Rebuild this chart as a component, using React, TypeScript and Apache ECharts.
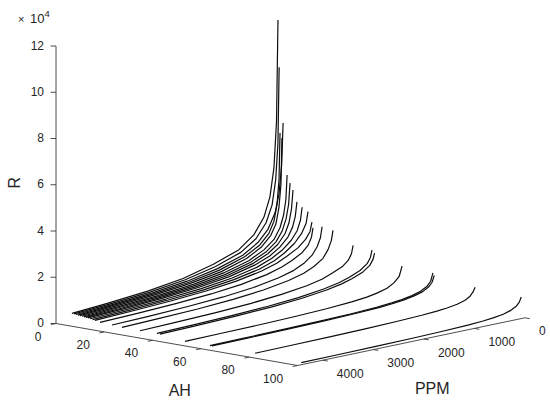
import React, { useEffect, useRef } from "react";
import * as echarts from "echarts";

// ---- data ----
const AH_LEVELS = [6.6, 7.5, 8.3, 9.1, 9.9, 10.8, 11.6, 12.4, 13.2, 14.1, 15.1, 16.1, 18.2, 23.2, 27.3, 34.8, 41.8, 43.0, 53.4, 63.7, 64.6, 82.4, 101.5];

const PPM_ROWS = [
  [4500, 3800, 3000, 2300, 1700, 1200, 900, 700, 580, 500, 450, 421],
  [4500, 3800, 3000, 2300, 1700, 1200, 900, 700, 580, 510, 465, 441],
  [4500, 3800, 3000, 2300, 1700, 1200, 900, 700, 560, 480, 430, 401],
  [4500, 3800, 3000, 2300, 1700, 1200, 900, 720, 620, 560, 520, 500],
  [4500, 3800, 3000, 2300, 1700, 1200, 900, 720, 620, 560, 520, 500],
  [4500, 3800, 3000, 2300, 1700, 1200, 900, 700, 580, 510, 465, 441],
  [4500, 3800, 3000, 2300, 1700, 1200, 900, 700, 580, 500, 450, 421],
  [4500, 3800, 3000, 2300, 1700, 1200, 900, 700, 560, 480, 430, 401],
  [4500, 3800, 3000, 2300, 1700, 1200, 900, 700, 540, 450, 395, 361],
  [4500, 3800, 3000, 2300, 1700, 1200, 900, 700, 520, 400, 335, 302],
  [4500, 3800, 3000, 2300, 1700, 1200, 900, 700, 500, 360, 270, 233],
  [4500, 3800, 3000, 2300, 1700, 1200, 900, 700, 480, 330, 240, 203],
  [4500, 3800, 3000, 2300, 1700, 1200, 900, 700, 500, 380, 315, 282],
  [4500, 3800, 3000, 2300, 1700, 1200, 900, 700, 540, 440, 375, 342],
  [4500, 3800, 3000, 2300, 1700, 1200, 900, 700, 520, 420, 355, 322],
  [4500, 3800, 3000, 2300, 1700, 1200, 900, 700, 500, 380, 315, 282],
  [4500, 3800, 3000, 2300, 1700, 1200, 900, 700, 480, 340, 275, 243],
  [4500, 3800, 3000, 2300, 1700, 1200, 900, 700, 480, 345, 280, 250],
  [4500, 3800, 3000, 2300, 1700, 1200, 900, 700, 500, 360, 260, 203],
  [4500, 3800, 3000, 2300, 1700, 1200, 900, 700, 500, 330, 200, 130, 84],
  [4500, 3800, 3000, 2300, 1700, 1200, 900, 700, 500, 330, 210, 145, 100],
  [4500, 3800, 3000, 2300, 1700, 1200, 900, 700, 500, 350, 250, 185, 144],
  [4500, 3800, 3000, 2300, 1700, 1200, 900, 700, 500, 350, 250, 185, 144],
];

const R_ROWS = [
  [5600, 6700, 8300, 10600, 14000, 17900, 23000, 29700, 38000, 50400, 70000, 113700],
  [5500, 6550, 8030, 10200, 13200, 17000, 21500, 27500, 34700, 45100, 60500, 93600],
  [5400, 6370, 7780, 9720, 12400, 15900, 20000, 24800, 31300, 39400, 51300, 69400],
  [5300, 6250, 7580, 9430, 11900, 15400, 19100, 23300, 28100, 35000, 45600, 65700],
  [5200, 6080, 7380, 9150, 11400, 14800, 18500, 22600, 27000, 33800, 43700, 63700],
  [5100, 5920, 7140, 8770, 11000, 14000, 17300, 20900, 25500, 30600, 37200, 47600],
  [5000, 5800, 6950, 8500, 10500, 13500, 16500, 20000, 24000, 29000, 35000, 44100],
  [4900, 5640, 6760, 8230, 10200, 13000, 15900, 19100, 23000, 27400, 33300, 41200],
  [4800, 5520, 6580, 7970, 9840, 12500, 15100, 18000, 21600, 25400, 29800, 36000],
  [4600, 5290, 6260, 7540, 9290, 11700, 14300, 16800, 20200, 23900, 28100, 33600],
  [4450, 5070, 6010, 7210, 8900, 11100, 13400, 15800, 19100, 22700, 26700, 31600],
  [4300, 4900, 5760, 6880, 8390, 10500, 12500, 14600, 17200, 20200, 23200, 27100],
  [3800, 4290, 5020, 6000, 7410, 9310, 11200, 13100, 15600, 18200, 21300, 25300],
  [3550, 4010, 4690, 5610, 6960, 8880, 10700, 12800, 15600, 18800, 22400, 27000],
  [3300, 3730, 4360, 5280, 6600, 8420, 10200, 12200, 14900, 18200, 21800, 26100],
  [3200, 3580, 4160, 4960, 6080, 7520, 8960, 10600, 12500, 14700, 17300, 20800],
  [3350, 3690, 4220, 4960, 5960, 7370, 8710, 10100, 12100, 14400, 16800, 19800],
  [3250, 3580, 4100, 4800, 5780, 7150, 8450, 9750, 11700, 13900, 16200, 18800],
  [2000, 2160, 2400, 2760, 3240, 3900, 4600, 5400, 6600, 8400, 10600, 14800],
  [2000, 2140, 2340, 2600, 2960, 3440, 3960, 4500, 5300, 6400, 8000, 9800, 13200],
  [2050, 2190, 2390, 2650, 3010, 3490, 4000, 4550, 5330, 6400, 7950, 9600, 12400],
  [2100, 2230, 2420, 2670, 2980, 3400, 3820, 4240, 4940, 5880, 7140, 8820, 10700],
  [1500, 1600, 1770, 1980, 2250, 2620, 3000, 3450, 4120, 5100, 6300, 7800, 9900],
];

const AH_TICKS = [0, 20, 40, 60, 80, 100];
const PPM_TICKS = [0, 1000, 2000, 3000, 4000];
const R_TICKS = [0, 20000, 40000, 60000, 80000, 100000, 120000];
const R_TICK_LABELS = ["0", "2", "4", "6", "8", "10", "12"];

const AH_RANGE = [0, 100];
const PPM_RANGE = [0, 4500];
const R_RANGE = [0, 120000];

// ---- layout of the projected 3-D box (pixels of the view plane) ----
const BOX_ORIGIN = [56, 323.5]; // AH min, PPM max, R 0
const BOX_AH_END = [297.6, 365.5]; // AH max, PPM max
const BOX_PPM_END = [524.9, 317.8]; // AH max, PPM min
const BOX_R_TOP = [56, 46]; // R max above origin

const FONT = "'Liberation Sans', Arial, Helvetica, sans-serif";
const TEXT_COLOR = "#262626";
const AXIS_COLOR = "#3a3a3a";
const TICK_FONT = 12;

function project(ah: number, ppm: number, r: number): number[] {
  const u = (ah - AH_RANGE[0]) / (AH_RANGE[1] - AH_RANGE[0]);
  const v = (PPM_RANGE[1] - ppm) / (PPM_RANGE[1] - PPM_RANGE[0]);
  const w = (r - R_RANGE[0]) / (R_RANGE[1] - R_RANGE[0]);
  return [
    BOX_ORIGIN[0] + u * (BOX_AH_END[0] - BOX_ORIGIN[0]) + v * (BOX_PPM_END[0] - BOX_AH_END[0]) + w * (BOX_R_TOP[0] - BOX_ORIGIN[0]),
    BOX_ORIGIN[1] + u * (BOX_AH_END[1] - BOX_ORIGIN[1]) + v * (BOX_PPM_END[1] - BOX_AH_END[1]) + w * (BOX_R_TOP[1] - BOX_ORIGIN[1]),
  ];
}

function unit(a: number[], b: number[]): number[] {
  const dx = b[0] - a[0];
  const dy = b[1] - a[1];
  const l = Math.sqrt(dx * dx + dy * dy);
  return [dx / l, dy / l];
}

function txt(x: number, y: number, text: string, size: number, align: string, valign: string, extra: any = {}) {
  return {
    type: "text",
    x,
    y,
    ...extra,
    style: {
      text,
      fill: TEXT_COLOR,
      fontSize: size,
      fontFamily: FONT,
      textAlign: align,
      textVerticalAlign: valign,
    },
  };
}

function line(a: number[], b: number[]) {
  return {
    type: "line",
    shape: { x1: a[0], y1: a[1], x2: b[0], y2: b[1] },
    style: { stroke: AXIS_COLOR, lineWidth: 0.9 },
  };
}

export default function App() {
  const ref = useRef<HTMLDivElement>(null);

  useEffect(() => {
    if (!ref.current) return;
    const chart = echarts.init(ref.current, undefined, { renderer: "svg" });

    const renderFrame = (params: any, api: any) => {
      const c = (p: number[]) => api.coord(p);
      const children: any[] = [];

      // R axis
      const r0 = c(project(AH_RANGE[0], PPM_RANGE[1], R_RANGE[0]));
      const r1 = c(project(AH_RANGE[0], PPM_RANGE[1], R_RANGE[1]));
      children.push(line(r0, r1));
      R_TICKS.forEach((t, i) => {
        const p = c(project(AH_RANGE[0], PPM_RANGE[1], t));
        children.push(line([p[0] - 5.5, p[1]], p));
        children.push(txt(p[0] - 12, p[1] - 0.5, R_TICK_LABELS[i], TICK_FONT, "right", "middle"));
      });
      children.push(txt(r1[0] - 38, r1[1] - 27.5, "×", 11, "left", "middle"));
      children.push(txt(r1[0] - 26, r1[1] - 28, "10", 13, "left", "middle"));
      children.push(txt(r1[0] - 11.5, r1[1] - 33, "4", 9.5, "left", "middle"));
      const rMid = c(project(AH_RANGE[0], PPM_RANGE[1], (R_RANGE[0] + R_RANGE[1]) / 2));
      children.push(txt(rMid[0] - 42, rMid[1] - 2, "R", 16, "center", "middle", { rotation: Math.PI / 2 }));

      // AH axis (at PPM max)
      const a0 = c(project(AH_RANGE[0], PPM_RANGE[1], 0));
      const a1 = c(project(AH_RANGE[1], PPM_RANGE[1], 0));
      children.push(line(a0, a1));
      const ppmOut = unit(c(project(AH_RANGE[1], PPM_RANGE[0], 0)), a1);
      AH_TICKS.forEach((t) => {
        const p = c(project(t, PPM_RANGE[1], 0));
        children.push(line(p, [p[0] + ppmOut[0] * 5, p[1] + ppmOut[1] * 5]));
        children.push(txt(p[0] - 14.5, p[1] + 13, String(t), TICK_FONT, "right", "middle"));
      });
      const aMid = c(project((AH_RANGE[0] + AH_RANGE[1]) / 2, PPM_RANGE[1], 0));
      children.push(txt(aMid[0] + 3, aMid[1] + 45.5, "AH", 16, "center", "middle"));

      // PPM axis (at AH max)
      const p0 = c(project(AH_RANGE[1], PPM_RANGE[1], 0));
      const p1 = c(project(AH_RANGE[1], PPM_RANGE[0], 0));
      children.push(line(p0, p1));
      const ahOut = unit(a0, a1);
      PPM_TICKS.forEach((t) => {
        const p = c(project(AH_RANGE[1], t, 0));
        children.push(line(p, [p[0] + ahOut[0] * 5, p[1] + ahOut[1] * 5]));
        children.push(txt(p[0] + 14, p[1] + 13.5, String(t), TICK_FONT, "left", "middle"));
      });
      const pMid = c(project(AH_RANGE[1], (PPM_RANGE[0] + PPM_RANGE[1]) / 2, 0));
      children.push(txt(pMid[0] + 21, pMid[1] + 47, "PPM", 16, "center", "middle"));

      return { type: "group", children };
    };

    const renderCurve = (params: any, api: any) => {
      const i = params.dataIndex;
      const ppm = PPM_ROWS[i];
      const rr = R_ROWS[i];
      const points = ppm.map((p, k) => api.coord(project(AH_LEVELS[i], p, rr[k])));
      return {
        type: "polyline",
        shape: { points },
        style: { stroke: "#0d0d0d", lineWidth: 1.2, fill: null, lineJoin: "round" },
      };
    };

    chart.setOption({
      animation: false,
      backgroundColor: "#ffffff",
      grid: { left: 0, right: 0, top: 0, bottom: 0 },
      xAxis: { type: "value", min: 0, max: 550, show: false },
      yAxis: { type: "value", min: 0, max: 403, inverse: true, show: false },
      series: [
        {
          type: "custom",
          name: "frame",
          clip: false,
          silent: true,
          renderItem: renderFrame,
          data: [[0, 0]],
        },
        {
          type: "custom",
          name: "R(AH, PPM)",
          clip: false,
          silent: true,
          renderItem: renderCurve,
          data: AH_LEVELS.map((a, i) => [i, a]),
        },
      ],
    });

    return () => chart.dispose();
  }, []);

  return (
    <div
      ref={ref}
      style={{ position: "fixed", left: 0, top: 0, width: 550, height: 403, background: "#fff" }}
    />
  );
}
